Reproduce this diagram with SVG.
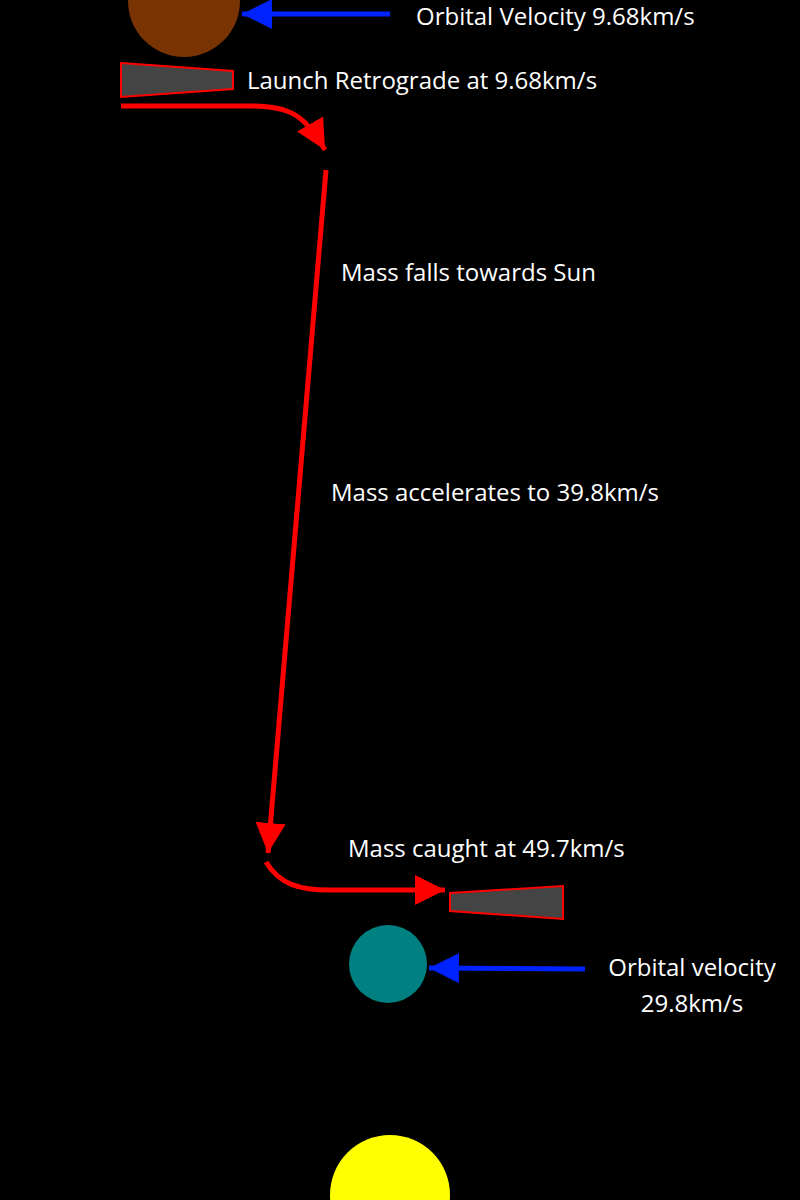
<svg xmlns="http://www.w3.org/2000/svg" width="800" height="1200" viewBox="0 0 800 1200">
<style>
text{font-family:"Open Sans","Liberation Sans",sans-serif;font-size:24px;fill:#fff}
.red{stroke:#f00;stroke-width:5;fill:none}
.blue{stroke:#0022ff;stroke-width:5;fill:none}
.thr{fill:#444;stroke:#f00;stroke-width:2}
</style>
<defs>
<marker id="ar" markerUnits="userSpaceOnUse" markerWidth="34" markerHeight="30" refX="30" refY="15" orient="auto"><path d="M0,0 L30,15 L0,30 Z" fill="#f00"/></marker>
<marker id="ab" markerUnits="userSpaceOnUse" markerWidth="34" markerHeight="30" refX="30" refY="15" orient="auto"><path d="M0,0 L30,15 L0,30 Z" fill="#0022ff"/></marker>
</defs>
<rect width="800" height="1200" fill="#000"/>
<g id="mars"><circle cx="184" cy="1" r="56" fill="#7a3404"/></g>
<g id="earth"><circle cx="388" cy="964" r="39" fill="#008080"/></g>
<g id="sun"><circle cx="390" cy="1195" r="60" fill="#ff0"/></g>
<g id="thruster1"><polygon class="thr" points="121,63 233,71 233,89 121,97"/></g>
<g id="thruster2"><polygon class="thr" points="450,893 563,886 563,919 450,911"/></g>
<g id="connectors">
<path class="blue" d="M390,14 L242,14" marker-end="url(#ab)"/>
<path class="blue" d="M585,969 L429,968" marker-end="url(#ab)"/>
<path class="red" d="M121,106 L250,106 C290,106 305,115 325,150" marker-end="url(#ar)"/>
<path class="red" d="M326,170 L268,853" marker-end="url(#ar)"/>
<path class="red" d="M266,862 C280,885 300,890 330,890 L445,890" marker-end="url(#ar)"/>
</g>
<g id="labels">
<text x="416" y="25">Orbital Velocity 9.68km/s</text>
<text x="247" y="89">Launch Retrograde at 9.68km/s</text>
<text x="341" y="281">Mass falls towards Sun</text>
<text x="331" y="501">Mass accelerates to 39.8km/s</text>
<text x="348" y="857">Mass caught at 49.7km/s</text>
<text x="692" y="976" text-anchor="middle">Orbital velocity</text>
<text x="692" y="1012" text-anchor="middle">29.8km/s</text>
</g>
</svg>
